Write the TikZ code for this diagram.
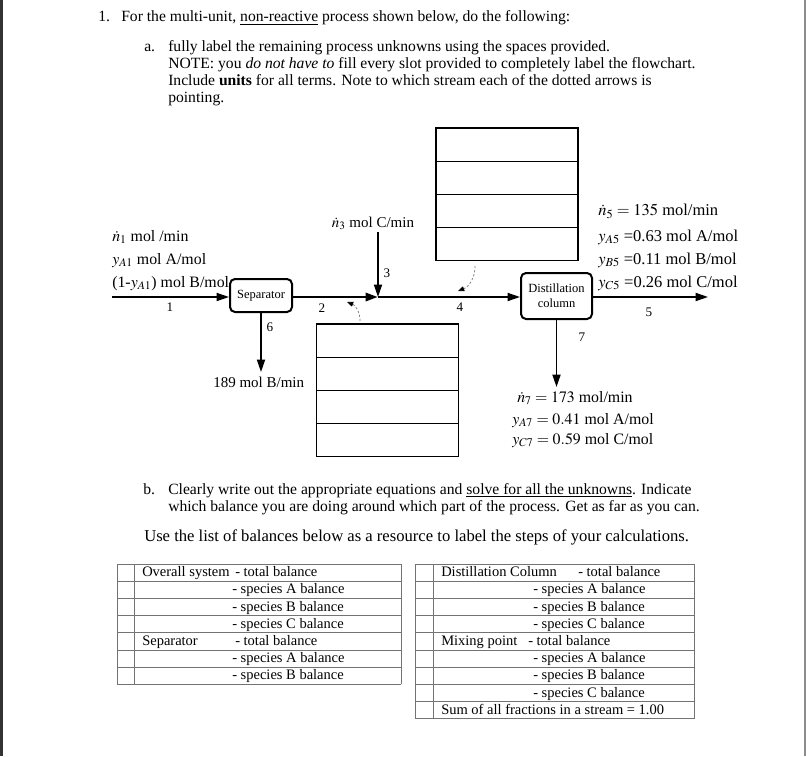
\documentclass[tikz,border=0pt]{standalone}
\usepackage{mathptmx}
\usepackage{fontspec}
\setmainfont{Liberation Serif}
\usetikzlibrary{arrows.meta}
\tikzset{
  txt/.style={anchor=base west, inner sep=0pt, font=\fontsize{12.5}{14}\selectfont},
  lbl/.style={anchor=base west, inner sep=0pt, font=\fontsize{12.7}{14}\selectfont},
  lblb/.style={anchor=base west, inner sep=0pt, font=\fontsize{13.2}{15}\selectfont},
  ttxt/.style={anchor=base west, inner sep=0pt, font=\fontsize{11.6}{14}\selectfont},
  ctxt/.style={anchor=base, inner sep=0pt, font=\fontsize{12}{14}\selectfont},
  num/.style={inner sep=0pt, font=\fontsize{10.5}{12}\selectfont},
  flow/.style={line width=1.2pt, -{Triangle[length=10pt,width=6.5pt]}},
  unitbox/.style={draw, line width=1.6pt, rounded corners=4pt, inner sep=0pt, align=center, font=\fontsize{10}{12}\selectfont},
  slot/.style={draw, line width=1pt, minimum width=113.6pt, minimum height=26.6pt, inner sep=0pt},
  hint/.style={black!50, line width=0.6pt, dash pattern=on 1.8pt off 1.5pt, -{Triangle[length=5pt,width=4pt,color=black]}},
  tline/.style={draw=black!55, line width=0.7pt},
}
\begin{document}
\begin{tikzpicture}[x=0.8pt,y=-0.8pt]
\useasboundingbox (0,0) rectangle (806,756);
\fill[black!80] (0,0) rectangle (2.5,756);
\fill[black!45] (804,0) rectangle (806,756);

% question text
\node[txt] (q1n) at (98,22) {1.};
\node[txt] (q1) at (121,22) {For the multi-unit, \underline{non-reactive} process shown below, do the following:};
\node[txt] (qan) at (144,52) {a.};
\node[txt] (qa1) at (168,52) {fully label the remaining process unknowns using the spaces provided.};
\node[txt] (qa2) at (168,69) {NOTE: you \textit{do not have to} fill every slot provided to completely label the flowchart.};
\node[txt] (qa3) at (168,86) {Include \textbf{units} for all terms. Note to which stream each of the dotted arrows is};
\node[txt] (qa4) at (168,103) {pointing.};

% slots
\node[slot] (t1) at (507,144.6) {};
\node[slot] (t2) at (507,177.8) {};
\node[slot] (t3) at (507,211.0) {};
\node[slot] (t4) at (507,244.2) {};
\node[slot] (b1) at (387.5,340.6) {};
\node[slot] (b2) at (387.5,373.8) {};
\node[slot] (b3) at (387.5,407.0) {};
\node[slot] (b4) at (387.5,440.2) {};

% units
\node[unitbox, minimum width=49.6pt, minimum height=26.4pt] (sep) at (261,295.5) {Separator};
\node[unitbox, minimum width=56.8pt, minimum height=36.8pt] (dist) at (556.5,296) {Distillation\\column};

\coordinate (s1a) at (112,297);
\coordinate (mix) at (378,297);
\coordinate (s3a) at (378,232);
\coordinate (s5b) at (708,297);
\coordinate (s6b) at (261,372);
\coordinate (s7b) at (556.5,387);

\draw[flow] (s1a) -- (s1a -| sep.west);
\draw[flow, line width=2.2pt] (sep.east |- mix) -- (mix);
\draw[flow] (s3a) -- (mix);
\draw[flow] (mix) -- (mix -| dist.west);
\draw[flow] (dist.east |- mix) -- (s5b);
\draw[flow] (sep.south) -- (s6b);
\draw[flow] (dist.south) -- (s7b);

% dotted hint arrows
\coordinate (h1a) at (360,321);
\coordinate (h1b) at (347,302);
\coordinate (h2a) at (475,266);
\coordinate (h2b) at (458,291);
\draw[hint] (h1a) to[bend right=35] (h1b);
\draw[hint] (h2a) to[bend left=35] (h2b);

% stream numbers
\node[num] (n1) at (170,307) {1};
\node[num] (n2) at (322,308) {2};
\node[num] (n3) at (387,273) {3};
\node[num] (n4) at (460,307) {4};
\node[num] (n5) at (649,312) {5};
\node[num] (n6) at (270,327) {6};
\node[num] (n7) at (582,337) {7};

% stream labels
\node[lbl] (l11) at (112,241) {$\dot{n}_1$ mol /min};
\node[lbl] (l12) at (112,264) {$y_{A1}$ mol A/mol};
\node[lbl] (l13) at (112,287) {(1-$y_{A1}$) mol B/mol};
\node[ctxt] (l3) at (373,227) {$\dot{n}_3$ mol C/min};
\node[lblb] (l51) at (598,216) {$\dot{n}_5 = 135$ mol/min};
\node[lblb] (l52) at (598,241) {$y_{A5}$ =0.63 mol A/mol};
\node[lblb] (l53) at (598,264) {$y_{B5}$ =0.11 mol B/mol};
\node[lblb] (l54) at (598,287) {$y_{C5}$ =0.26 mol C/mol};
\node[ctxt, anchor=base west] (l6) at (213,387) {189 mol B/min};
\node[lbl] (l71) at (517,402) {$\dot{n}_7 = 173$ mol/min};
\node[lbl] (l72) at (512,424) {$y_{A7} = 0.41$ mol A/mol};
\node[lbl] (l73) at (512,444) {$y_{C7} = 0.59$ mol C/mol};

% part b
\node[txt] (qbn) at (143,494) {b.};
\node[txt] (qb1) at (168,494) {Clearly write out the appropriate equations and \underline{solve for all the unknowns}. Indicate};
\node[txt] (qb2) at (168,511) {which balance you are doing around which part of the process. Get as far as you can.};
\node[txt, font=\fontsize{13.3}{15}\selectfont] (qb3) at (144,541) {Use the list of balances below as a resource to label the steps of your calculations.};

% left table
\foreach \i in {0,...,7} \draw[tline] (117,{564+17.2*\i}) -- (401,{564+17.2*\i});
\draw[tline] (117,564) -- (117,{564+17.2*7});
\draw[tline] (134,564) -- (134,{564+17.2*7});
\draw[tline] (401,564) -- (401,{564+17.2*7});
\node[ttxt] (la1) at (142,{564+17.2*0.5+4}) {Overall system};
\node[ttxt] (lb1) at (235,{564+17.2*0.5+4}) {- total balance};
\node[ttxt] (lb2) at (232,{564+17.2*1.5+4}) {- species A balance};
\node[ttxt] (lb3) at (232,{564+17.2*2.5+4}) {- species B balance};
\node[ttxt] (lb4) at (232,{564+17.2*3.5+4}) {- species C balance};
\node[ttxt] (la5) at (142,{564+17.2*4.5+4}) {Separator};
\node[ttxt] (lb5) at (235,{564+17.2*4.5+4}) {- total balance};
\node[ttxt] (lb6) at (232,{564+17.2*5.5+4}) {- species A balance};
\node[ttxt] (lb7) at (232,{564+17.2*6.5+4}) {- species B balance};

% right table
\foreach \i in {0,...,9} \draw[tline] (415,{564+17.2*\i}) -- (694,{564+17.2*\i});
\draw[tline] (415,564) -- (415,{564+17.2*9});
\draw[tline] (433,564) -- (433,{564+17.2*9});
\draw[tline] (694,564) -- (694,{564+17.2*9});
\node[ttxt] (ra1) at (441,{564+17.2*0.5+4}) {Distillation Column};
\node[ttxt] (rb1) at (578,{564+17.2*0.5+4}) {- total balance};
\node[ttxt] (rb2) at (533,{564+17.2*1.5+4}) {- species A balance};
\node[ttxt] (rb3) at (533,{564+17.2*2.5+4}) {- species B balance};
\node[ttxt] (rb4) at (533,{564+17.2*3.5+4}) {- species C balance};
\node[ttxt] (ra5) at (441,{564+17.2*4.5+4}) {Mixing point};
\node[ttxt] (rb5) at (528,{564+17.2*4.5+4}) {- total balance};
\node[ttxt] (rb6) at (533,{564+17.2*5.5+4}) {- species A balance};
\node[ttxt] (rb7) at (533,{564+17.2*6.5+4}) {- species B balance};
\node[ttxt] (rb8) at (533,{564+17.2*7.5+4}) {- species C balance};
\node[ttxt] (ra9) at (441,{564+17.2*8.5+4}) {Sum of all fractions in a stream = 1.00};
\end{tikzpicture}
\end{document}
